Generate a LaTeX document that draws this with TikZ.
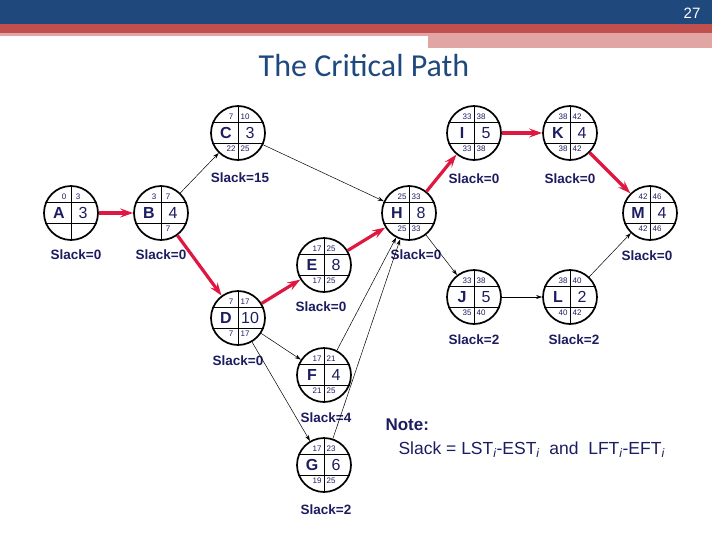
\documentclass[tikz,border=0pt]{standalone}
\usepackage{fontspec}
\setmainfont{Liberation Sans}
\newfontfamily\titlefont{Carlito}
\usetikzlibrary{arrows.meta}
\definecolor{navy}{RGB}{28,28,96}
\definecolor{band}{RGB}{31,73,125}
\definecolor{crit}{RGB}{222,24,64}
\definecolor{bandred}{RGB}{192,80,77}
\definecolor{bandpink}{RGB}{225,165,163}

\tikzset{
  act/.style={draw,circle,line width=1.7pt,minimum size=54pt,inner sep=0pt},
  grid/.style={line width=0.6pt},
  cell/.style={font=\fontsize{8}{9}\selectfont,text=navy,inner sep=0pt},
  slack/.style={font=\fontsize{13.5}{15}\selectfont\bfseries,text=navy},
  flow/.style={-{Stealth[length=6pt,width=4pt]},line width=0.5pt},
  critical/.style={-{Stealth[length=13pt,width=9pt,inset=5pt]},line width=3.2pt,draw=crit}
}

% name, position, letter, duration, top left, top right, bottom left, bottom right
\newcommand{\activity}[8]{
  \node[act] (#1) at (#2) {};
  \draw[grid] (#1.north) -- (#1.south);
  \draw[grid] (#1.158) -- (#1.22);
  \draw[grid] (#1.202) -- (#1.338);
  \node[font=\fontsize{16}{17}\selectfont\bfseries,text=navy] at ([xshift=-12pt]#1) {#3};
  \node[font=\fontsize{16}{17}\selectfont,text=navy] at ([xshift=12pt]#1) {#4};
  \node[cell] at ([xshift=-7pt,yshift=16pt]#1) {#5};
  \node[cell] at ([xshift=7pt,yshift=16pt]#1) {#6};
  \node[cell] at ([xshift=-7pt,yshift=-16pt]#1) {#7};
  \node[cell] at ([xshift=7pt,yshift=-16pt]#1) {#8};
}

\begin{document}
\begin{tikzpicture}[x=1pt,y=-1pt]
  \useasboundingbox (0,0) rectangle (728,546);
  % header bands
  \fill[band] (0,0) rectangle (712,24);
  \fill[bandred] (0,24) rectangle (712,33);
  \fill[bandpink] (0,33) rectangle (428,36);
  \fill[bandpink] (428,33) rectangle (712,48);
  \node[text=white,font=\fontsize{15}{16}\selectfont] (page) at (692,13) {27};
  \node[text=band,font=\titlefont\fontsize{32}{34}\selectfont] (title) at (364,66) {The Critical Path};

  \activity{A}{71,213}{A}{3}{0}{3}{}{}
  \activity{B}{161,213}{B}{4}{3}{7}{}{7}
  \activity{C}{238,133}{C}{3}{7}{10}{22}{25}
  \activity{D}{238,318}{D}{10}{7}{17}{7}{17}
  \activity{E}{324,265}{E}{8}{17}{25}{17}{25}
  \activity{F}{324,375}{F}{4}{17}{21}{21}{25}
  \activity{G}{324,465}{G}{6}{17}{23}{19}{25}
  \activity{H}{409,213}{H}{8}{25}{33}{25}{33}
  \activity{I}{474,133}{I}{5}{33}{38}{33}{38}
  \activity{J}{474,297}{J}{5}{33}{38}{35}{40}
  \activity{K}{570,133}{K}{4}{38}{42}{38}{42}
  \activity{L}{570,297}{L}{2}{38}{40}{40}{42}
  \activity{M}{650,213}{M}{4}{42}{46}{42}{46}

  \node[slack] (sA) at (76,255) {Slack=0};
  \node[slack] (sB) at (161,255) {Slack=0};
  \node[slack] (sC) at (240,178) {Slack=15};
  \node[slack] (sD) at (238,361) {Slack=0};
  \node[slack] (sE) at (321,307) {Slack=0};
  \node[slack] (sF) at (326,418) {Slack=4};
  \node[slack] (sG) at (326,510) {Slack=2};
  \node[slack] (sH) at (416,255) {Slack=0};
  \node[slack] (sI) at (474,179) {Slack=0};
  \node[slack] (sJ) at (474,340) {Slack=2};
  \node[slack] (sK) at (570,179) {Slack=0};
  \node[slack] (sL) at (574,340) {Slack=2};
  \node[slack] (sM) at (647,256) {Slack=0};

  \draw[flow] (B) -- (C);
  \draw[flow] (C) -- (H);
  \draw[flow] (D) -- (F);
  \draw[flow] (D) -- (G);
  \draw[flow] (F) -- (H);
  \draw[flow] (G) -- (H);
  \draw[flow] (H) -- (J);
  \draw[flow] (J) -- (L);
  \draw[flow] (L) -- (M);

  \draw[critical] (A) -- (B);
  \draw[critical] (B) -- (D);
  \draw[critical] (D) -- (E);
  \draw[critical] (E) -- (H);
  \draw[critical] (H) -- (I);
  \draw[critical] (I) -- (K);
  \draw[critical] (K) -- (M);

  \node[anchor=west,text=navy,font=\fontsize{17}{19}\selectfont\bfseries] (note) at (382,425) {Note:};
  \node[anchor=west,text=navy,font=\fontsize{17.5}{19}\selectfont] (formula) at (395,450)
    {Slack = LST$_{\mathit{i}}$-EST$_{\mathit{i}}$ \ and \ LFT$_{\mathit{i}}$-EFT$_{\mathit{i}}$};
\end{tikzpicture}
\end{document}
